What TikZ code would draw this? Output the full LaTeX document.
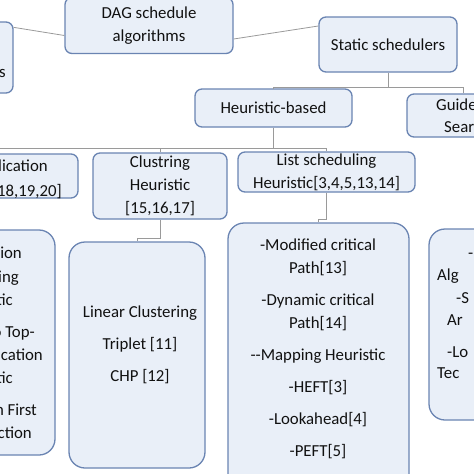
\documentclass[tikz,border=0pt]{standalone}
\usepackage{fontspec}
\setmainfont{Carlito}
\usetikzlibrary{calc}
\definecolor{boxfill}{HTML}{E9EFF8}
\definecolor{boxline}{HTML}{6A84B2}
\definecolor{linkgray}{HTML}{9A9A9A}
\definecolor{txt}{HTML}{111111}
\tikzset{
  blk/.style={draw=boxline, fill=boxfill, line width=1.3pt, rounded corners=7pt,
    align=center, inner sep=0pt, text=txt, font=\fontsize{16.8}{23}\selectfont},
  bigblk/.style={blk, rounded corners=16pt},
  lbl/.style={inner sep=0pt, text=txt, align=center, font=\fontsize{16.8}{23}\selectfont},
  link/.style={draw=linkgray, line width=0.8pt},
}

\begin{document}
\begin{tikzpicture}[x=1pt,y=-1pt]
  \useasboundingbox (0,0) rectangle (474,474);
  \clip (0,0) rectangle (474,474);
  % top row
  \node[blk, minimum width=73pt, minimum height=71pt] (dyn) at (-23.5,57.5) {};
  \node[lbl, anchor=base east] (dyntxt) at (6,77) {s};
  \node[blk, minimum width=168pt, minimum height=56pt] (dag) at (149,25.5) {DAG schedule\\algorithms};
  \node[blk, minimum width=138pt, minimum height=55pt] (static) at (388,44.5) {Static schedulers};
  \draw[link] ([yshift=-6pt]dyn.north east) -- ([yshift=-10pt]dag.west);
  \draw[link] ([yshift=-13.5pt]dag.east) -- ([yshift=18.5pt]static.west);
  % second row
  \node[blk, minimum width=157pt, minimum height=38pt] (heur) at (273.5,108) {Heuristic-based};
  \node[blk, minimum width=112pt, minimum height=43pt] (guided) at (463,115.5) {};
  \node[lbl, anchor=base west] (guidedtxt1) at (436,110) {Guide};
  \node[lbl, anchor=base west] (guidedtxt2) at (444,132) {Sear};
  \draw[link] (static.south) -- ++(0,15) -| (heur.north);
  \draw[link] (static.south) -- ++(0,15) -| (guided.north);
  % third row
  \node[blk, minimum width=158pt, minimum height=44pt] (app) at (-1,176) {};
  \node[lbl, anchor=base east] (apptxt1) at (48,171) {lication};
  \node[lbl, anchor=base east] (apptxt2) at (62,196) {18,19,20]};
  \node[blk, minimum width=134pt, minimum height=66pt] (clus) at (160,186) {Clustring\\Heuristic\\{[15,16,17]}};
  \node[blk, minimum width=177pt, minimum height=40pt] (list) at (326.5,172) {List scheduling\\Heuristic[3,4,5,13,14]};
  \draw[link] (heur.south) -- ++(0,21) -| (app.north);
  \draw[link] (heur.south) -- ++(0,21) -| (clus.north);
  \draw[link] (heur.south) -- ++(0,21) -| (list.north);
  % bottom row
  \node[bigblk, minimum width=115pt, minimum height=225pt] (dup) at (-2.5,342.5) {};
  \foreach \t/\x/\y [count=\i] in {ion/22/253, ing/19/277, tic/13/300, o Top-/35/332,
      cation/43/355, tic/13/378, n First/37/410, ction/32/433}
    \node[lbl, anchor=base east] (duptxt\i) at (\x,\y+5) {\t};
  \node[bigblk, minimum width=136pt, minimum height=226pt] (linear) at (137,355) {};
  \node[lbl] (lineartxt) at (140,345) {Linear Clustering\\[9pt]Triplet [11]\\[9pt]CHP [12]};
  \node[bigblk, minimum width=181pt, minimum height=267pt] (llist) at (318.5,356.5) {};
  \node[lbl] (llisttxt) at (318,348.5) {-Modified critical\\Path[13]\\[9pt]-Dynamic critical\\Path[14]\\[9pt]%
    -{}-Mapping Heuristic\\[9pt]-HEFT[3]\\[9pt]-Lookahead[4]\\[9pt]-PEFT[5]};
  \node[bigblk, minimum width=111pt, minimum height=191pt] (guide) at (484.5,324.5) {};
  \foreach \t/\x/\y [count=\i] in {-/468/253, Alg/437/275, -S/456/298, Ar/447/320,
      -Lo/447/352, Tec/437/373}
    \node[lbl, anchor=base west] (guidetxt\i) at (\x,\y+5) {\t};
  \draw[link] (clus.south) -- ++(0,19) -| (linear.north);
  \draw[link] (list.south) -- ++(0,27) -| (llist.north);
\end{tikzpicture}
\end{document}
